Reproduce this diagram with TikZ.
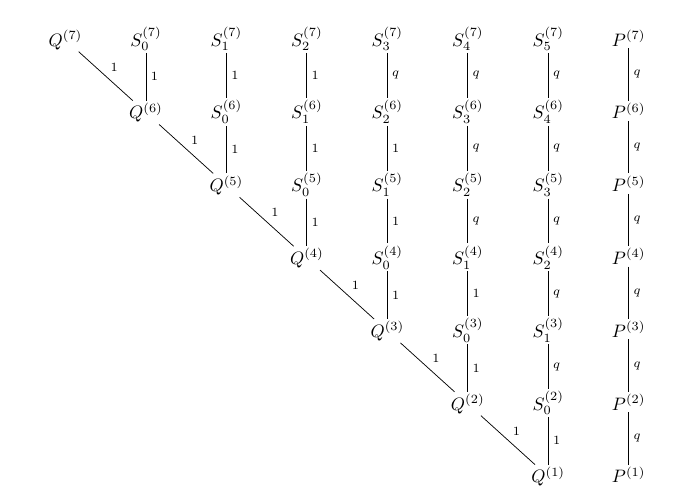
\documentclass[tikz,border=0pt]{standalone}
\begin{document}
\begin{tikzpicture}[x=0.5556pt,y=-0.5556pt,
  nd/.style={inner sep=1pt, anchor=base},
  edge/.style={line width=0.4pt},
  vl/.style={right, font=\scriptsize, inner sep=2.5pt},
  dl/.style={above right, font=\scriptsize, inner sep=2.5pt}]
\useasboundingbox (0,0) rectangle (673,496);
\def\X#1{65.5+80.45*(#1)}
\def\Y#1{46+72.8*(7-(#1))}
\foreach \k in {1,...,7} {
  \node[nd] (Q\k) at ({\X{7-\k}},{\Y{\k}}) {$Q^{(\k)}$};
  \node[nd] (P\k) at ({\X{7}},{\Y{\k}}) {$P^{(\k)}$};
}
\foreach \k in {2,...,7} {
  \pgfmathtruncatemacro\jm{\k-2}
  \foreach \j in {0,...,\jm} {
    \pgfmathtruncatemacro\c{8-\k+\j}
    \node[nd] (S\j-\k) at ({\X{\c}},{\Y{\k}}) {$S_{\j}^{(\k)}$};
  }
}
\foreach \k in {2,...,7} {
  \pgfmathtruncatemacro\m{\k-1}
  \draw[edge] (Q\k) -- node[dl] {$1$} (Q\m);
  \draw[edge] (P\k) -- node[vl] {$q$} (P\m);
}
\foreach \k in {2,...,7} {
  \pgfmathtruncatemacro\jm{\k-2}
  \pgfmathtruncatemacro\m{\k-1}
  \foreach \j in {0,...,\jm} {
    \pgfmathtruncatemacro\jj{\j-1}
    \pgfmathtruncatemacro\isq{(2*\j>=\k-1) ? 1 : 0}
    \ifnum\j=0 \def\tgt{Q\m}\else \def\tgt{S\jj-\m}\fi
    \ifnum\isq=1 \def\lab{q}\else \def\lab{1}\fi
    \draw[edge] (S\j-\k) -- node[vl] {$\lab$} (\tgt);
  }
}
\end{tikzpicture}
\end{document}
